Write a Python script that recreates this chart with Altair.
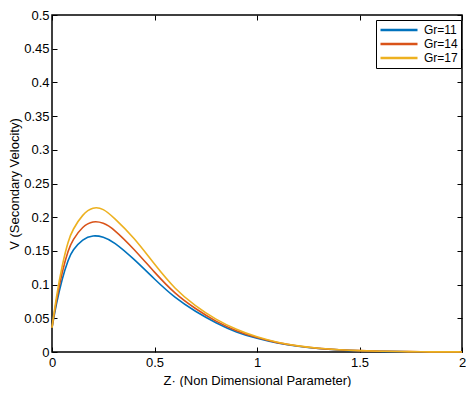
import altair as alt
import pandas as pd

z = [0, 0.02, 0.05, 0.08, 0.1, 0.15, 0.2, 0.25, 0.3, 0.4, 0.5, 0.6, 0.7, 0.8, 0.9,
     1.0, 1.1, 1.2, 1.3, 1.4, 1.5, 1.6, 1.7, 1.8, 1.9, 2.0]
gr11 = [0.036, 0.07, 0.11, 0.138, 0.151, 0.168, 0.1735, 0.171, 0.164, 0.138, 0.108, 0.08,
        0.06, 0.043, 0.029, 0.02, 0.013, 0.0082, 0.005, 0.003, 0.0018, 0.001, 0.0006,
        0.0003, 0.0002, 0.0001]
gr14 = [0.036, 0.075, 0.12, 0.152, 0.166, 0.187, 0.1945, 0.192, 0.183, 0.153, 0.118, 0.086,
        0.064, 0.045, 0.031, 0.021, 0.0135, 0.0085, 0.0052, 0.0031, 0.0019, 0.0011, 0.0006,
        0.0003, 0.0002, 0.0001]
gr17 = [0.036, 0.08, 0.13, 0.166, 0.181, 0.205, 0.2155, 0.213, 0.2, 0.17, 0.13, 0.093,
        0.068, 0.048, 0.033, 0.022, 0.014, 0.0088, 0.0054, 0.0032, 0.0019, 0.0011, 0.0006,
        0.0003, 0.0002, 0.0001]
series = ["Gr=11", "Gr=14", "Gr=17"]
colors = ["#0072BD", "#D95319", "#EDB120"]

rows = []
for name, vals in zip(series, [gr11, gr14, gr17]):
    for zi, v in zip(z, vals):
        rows.append({"z": zi, "v": v, "series": name})
df = pd.DataFrame(rows)

FONT = "Liberation Sans"
xscale = alt.Scale(domain=[0, 2], nice=False)
yscale = alt.Scale(domain=[0, 0.5], nice=False)
xvals = [0, 0.5, 1, 1.5, 2]
yvals = [round(i * 0.05, 2) for i in range(11)]

common = dict(offset=-5, tickSize=5, domain=False, grid=False,
              labelFont=FONT, labelFontSize=13, labelColor="black",
              titleFont=FONT, titleFontSize=13, titleFontWeight="normal",
              titleColor="black", tickColor="black", tickWidth=1,
              labelFlush=False, format="~g")

lines = alt.Chart(df).mark_line(strokeWidth=1.6, interpolate="basis").encode(
    x=alt.X("z:Q", scale=xscale,
            axis=alt.Axis(values=xvals, title="Z· (Non Dimensional Parameter)", orient="bottom",
                          labelPadding=4, titlePadding=5, **common)),
    y=alt.Y("v:Q", scale=yscale,
            axis=alt.Axis(values=yvals, title="V (Secondary Velocity)", orient="left",
                          labelPadding=3, titlePadding=2, **common)),
    color=alt.Color("series:N", scale=alt.Scale(domain=series, range=colors),
                    legend=alt.Legend(title=None, orient="none", legendX=324, legendY=5,
                                      symbolType="stroke", symbolSize=1369,
                                      symbolStrokeWidth=2.5, labelFont=FONT,
                                      labelFontSize=12, labelColor="black",
                                      strokeColor="black", fillColor="white",
                                      padding=3, rowPadding=0, clipHeight=14,
                                      labelOffset=5, cornerRadius=0)),
)

mirror = alt.Chart(df).mark_line(opacity=0).encode(
    x=alt.X("z:Q", scale=xscale,
            axis=alt.Axis(values=xvals, orient="top", offset=-5, tickSize=5, domain=False,
                          grid=False, labels=False, title=None, tickColor="black")),
    y=alt.Y("v:Q", scale=yscale,
            axis=alt.Axis(values=yvals, orient="right", offset=-5, tickSize=5, domain=False,
                          grid=False, labels=False, title=None, tickColor="black")),
)

chart = alt.layer(lines, mirror).resolve_axis(x="independent", y="independent").properties(
    width=410, height=337,
    autosize=alt.AutoSizeParams(type="none"),
    padding={"left": 44, "top": 7, "right": 4, "bottom": 35},
    background="white",
).configure_view(stroke="black", strokeWidth=1.5)

chart.save("out.html", embed_options={"renderer": "svg", "actions": False})
